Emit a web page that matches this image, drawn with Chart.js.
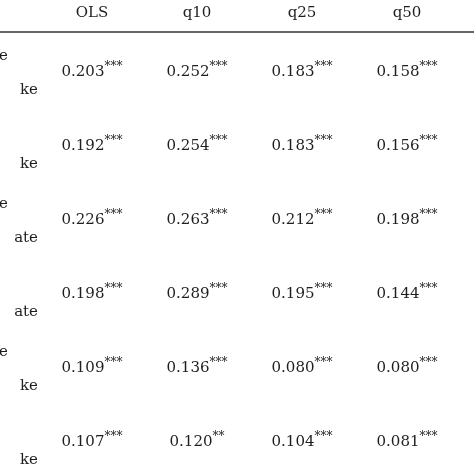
<!DOCTYPE html><html><head><meta charset="utf-8">
<script src="https://cdn.jsdelivr.net/npm/chart.js@4"></script>
<style>html,body{margin:0;padding:0;background:#fff}#w{width:474px;height:474px}</style></head><body>
<div id="w"><canvas id="c"></canvas></div>
<script>
const columns=["OLS","q10","q25","q50"];
const rowStubs=[["e","ke"],["","ke"],["e","ate"],["","ate"],["e","ke"],["","ke"]];
const OLS=["0.203***","0.192***","0.226***","0.198***","0.109***","0.107***"];
const q10=["0.252***","0.254***","0.263***","0.289***","0.136***","0.120**"];
const q25=["0.183***","0.183***","0.212***","0.195***","0.080***","0.104***"];
const q50=["0.158***","0.156***","0.198***","0.144***","0.080***","0.081***"];
const series=[OLS,q10,q25,q50];
const pts=[];series.forEach((s,ci)=>s.forEach((v,ri)=>pts.push({x:ci,y:ri,t:v})));
const FONT='"DejaVu Serif", "Liberation Serif", serif';
const plugin={id:'tbl',afterDatasetsDraw(ch){
 const c=ch.ctx,xs=ch.scales.x,ys=ch.scales.y;c.save();c.fillStyle='#1e1e1e';c.textBaseline='middle';
 c.font='15px '+FONT;c.textAlign='center';
 columns.forEach((h,i)=>c.fillText(h,xs.getPixelForValue(i),ys.getPixelForValue(-0.8)));
 c.strokeStyle='#666';c.lineWidth=2;const ly=ys.getPixelForValue(-0.54);c.beginPath();c.moveTo(0,ly);c.lineTo(474,ly);c.stroke();
 ch.getDatasetMeta(0).data.forEach((el,i)=>{const p=pts[i];c.font='15px '+FONT;
  const m=p.t.match(/^([0-9.]+)(\**)$/);const w1=c.measureText(m[1]).width;c.font='12px '+FONT;const w2=c.measureText(m[2]).width;
  const x0=el.x-(w1+w2)/2;c.textAlign='left';c.font='15px '+FONT;c.fillText(m[1],x0,el.y);c.font='12px '+FONT;c.fillText(m[2],x0+w1,el.y-5);});
 c.font='15px '+FONT;c.textAlign='right';
 rowStubs.forEach((r,i)=>{if(r[0])c.fillText(r[0],8,ys.getPixelForValue(i-0.22));c.fillText(r[1],38,ys.getPixelForValue(i+0.24));});
 c.restore();}};
new Chart(document.getElementById('c'),{type:'scatter',data:{datasets:[{data:pts,pointRadius:0}]},
options:{responsive:true,maintainAspectRatio:false,animation:false,layout:{padding:0},plugins:{legend:{display:false},tooltip:{enabled:false}},
scales:{x:{type:'linear',min:-0.876,max:3.638,display:false},y:{type:'linear',reverse:true,min:-0.973,max:5.432,display:false}}},plugins:[plugin]});
</script></body></html>
